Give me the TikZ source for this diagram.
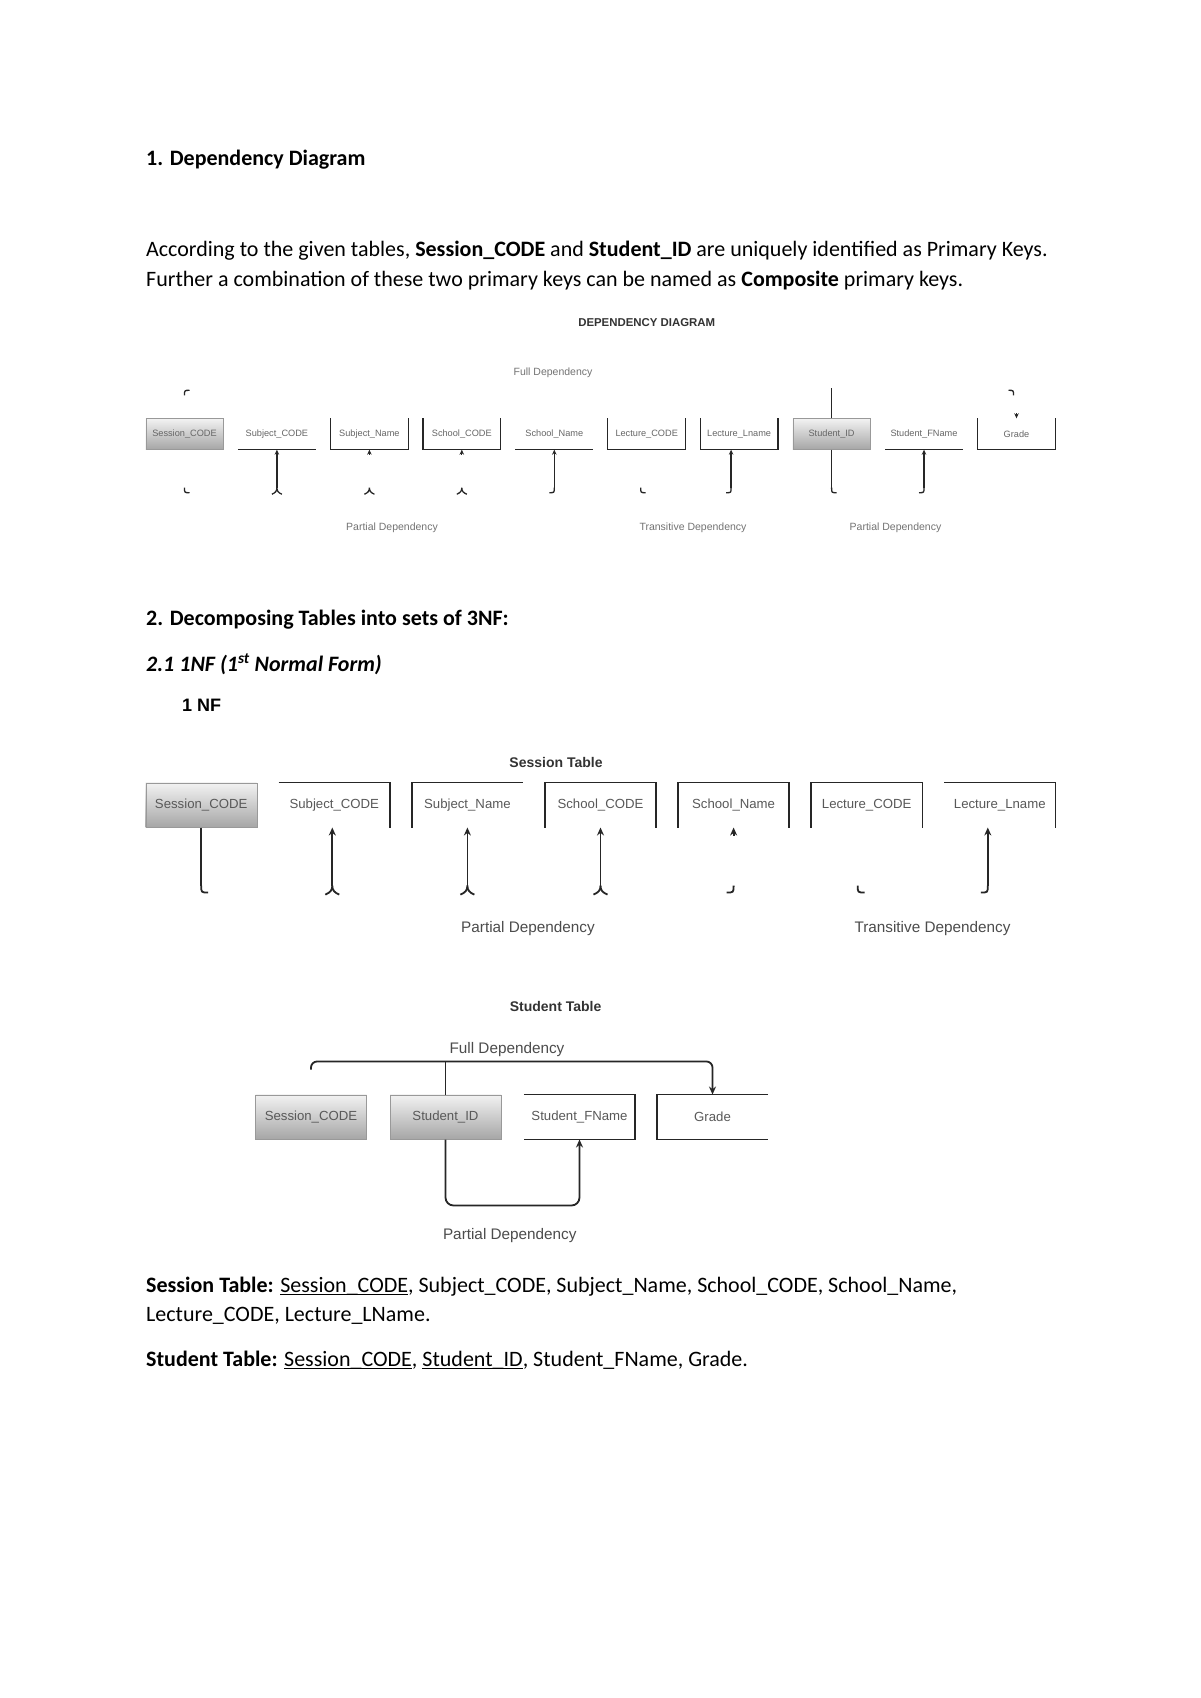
\documentclass[tikz,border=0pt]{standalone}
\usepackage{fontspec}
\setmainfont{Carlito}
\newfontfamily\diafont{Liberation Sans}
\usetikzlibrary{arrows.meta,positioning,calc}
\newcommand\keyul[1]{\underline{\smash{#1}}}

\tikzset{
  body/.style={anchor=west,inner sep=0pt,font=\fontsize{22}{26}\selectfont},
  % first diagram
  key1/.style={draw=black!40,top color=black!5,bottom color=black!35,minimum width=77.5pt,minimum height=31pt,inner sep=0pt,font=\diafont\fontsize{9.2}{10}\selectfont,text=black!60},
  att1/.style={minimum width=77.5pt,minimum height=31pt,inner sep=0pt,font=\diafont\fontsize{9.2}{10}\selectfont,text=black!60},
  lab1/.style={inner sep=0pt,font=\diafont\fontsize{10.5}{12}\selectfont,text=black!55},
  ln1/.style={line width=1.3pt,black!85},
  arr1/.style={ln1,-{Stealth[length=5pt,width=4.5pt]}},
  % session and student tables
  key2/.style={draw=black!40,top color=black!5,bottom color=black!35,minimum width=111pt,minimum height=44.6pt,inner sep=0pt,font=\diafont\fontsize{13.2}{15}\selectfont,text=black!65},
  att2/.style={minimum width=111pt,minimum height=44.6pt,inner sep=0pt,font=\diafont\fontsize{13.2}{15}\selectfont,text=black!65},
  lab2/.style={inner sep=0pt,font=\diafont\fontsize{15.3}{17}\selectfont,text=black!70},
  ln2/.style={line width=1.8pt,black!85},
  arr2/.style={ln2,-{Stealth[length=8pt,width=7pt]}},
  ttl/.style={inner sep=0pt,font=\diafont\bfseries\fontsize{14}{16}\selectfont,text=black!80},
  % loose ends of connectors
  fork/.pic={\draw (-5,1.5) .. controls (-1.5,0) and (0,-1.5) .. (0,-5) (5,1.5) .. controls (1.5,0) and (0,-1.5) .. (0,-5);},
  turnR/.pic={\draw (0,-5) .. controls (0,0) .. (5,0);},
  turnL/.pic={\draw (0,-5) .. controls (0,0) .. (-5,0);},
  capR/.pic={\draw (0,5) .. controls (0,0) .. (5,0);},
  capL/.pic={\draw (-5,0) .. controls (0,0) .. (0,5);},
}

\begin{document}
\begin{tikzpicture}[x=1pt,y=-1pt]
\useasboundingbox (0,0) rectangle (1200,1698);
\fill[white] (0,0) rectangle (1200,1698);

% section 1 text
\node[body,font=\bfseries\fontsize{22}{26}\selectfont] (h1) at (146,159.3) {1. Dependency Diagram};
\node[body] (p1) at (146,250.4) {According to the given tables, \textbf{Session\_CODE} and \textbf{Student\_ID} are uniquely identified as Primary Keys.};
\node[body] (p2) at (146,280.8) {Further a combination of these two primary keys can be named as \textbf{Composite} primary keys.};

% dependency diagram
\node[inner sep=0pt,font=\diafont\bfseries\fontsize{11.4}{13}\selectfont,text=black!80] (dt) at (646.7,322.7) {DEPENDENCY DIAGRAM};
\node[lab1] (fd1) at (553,372.7) {Full Dependency};

\node[key1] (s1) at (184.5,434) {Session\_CODE};
\node[att1] (s2) at (276.9,434) {Subject\_CODE};
\node[att1] (s3) at (369.4,434) {Subject\_Name};
\node[att1] (s4) at (461.8,434) {School\_CODE};
\node[att1] (s5) at (554.3,434) {School\_Name};
\node[att1] (s6) at (646.7,434) {Lecture\_CODE};
\node[att1] (s7) at (739.1,434) {Lecture\_Lname};
\node[key1] (s8) at (831.6,434) {Student\_ID};
\node[att1] (s9) at (924,434) {Student\_FName};
\node[att1] (s10) at (1016.5,434) {Grade};

\draw[ln1] (s2.south west) -- (s2.south east);
\draw[ln1] (s3.north west) -- (s3.south west) -- (s3.south east) -- (s3.north east);
\draw[ln1] (s4.north west) -- (s4.south west) -- (s4.south east) -- (s4.north east);
\draw[ln1] (s5.south west) -- (s5.south east);
\draw[ln1] (s6.north west) -- (s6.south west) -- (s6.south east) -- (s6.north east);
\draw[ln1] (s7.north west) -- (s7.south west) -- (s7.south east) -- (s7.north east);
\draw[ln1] (s9.south west) -- (s9.south east);
\draw[ln1] (s10.north west) -- (s10.south west) -- (s10.south east) -- (s10.north east);

\pic[ln1] at ($(s1.north)+(0,-28)$) {capR};
\pic[ln1] at ($(s1.south)+(0,43)$) {turnR};
\draw[arr1] ($(s2.south)+(0,38)$) -- (s2.south);
\pic[ln1] at ($(s2.south)+(0,43)$) {fork};
\draw[arr1] ($(s3.south)+(0,5)$) -- (s3.south);
\pic[ln1] at ($(s3.south)+(0,43)$) {fork};
\draw[arr1] ($(s4.south)+(0,5)$) -- (s4.south);
\pic[ln1] at ($(s4.south)+(0,43)$) {fork};
\draw[arr1] ($(s5.south)+(0,38)$) -- (s5.south);
\pic[ln1] at ($(s5.south)+(0,43)$) {turnL};
\pic[ln1] at ($(s6.south)+(-6,43)$) {turnR};
\draw[arr1] ($(s7.south)+(-8,38)$) -- ($(s7.south)+(-8,0)$);
\pic[ln1] at ($(s7.south)+(-8,43)$) {turnL};
\draw[ln1] (s8.north) -- ($(s8.north)+(0,-30)$);
\draw[ln1] (s8.south) -- ($(s8.south)+(0,38)$);
\pic[ln1] at ($(s8.south)+(0,43)$) {turnR};
\draw[arr1] ($(s9.south)+(0,38)$) -- (s9.south);
\pic[ln1] at ($(s9.south)+(0,43)$) {turnL};
\draw[arr1] ($(s10.north)+(0,-5)$) -- (s10.north);
\pic[ln1] at ($(s10.north)+(-3,-28)$) {capL};

\node[lab1] (pd1) at (392,528) {Partial Dependency};
\node[lab1] (td1) at (693,527.7) {Transitive Dependency};
\node[lab1] (pd2) at (895.5,527.7) {Partial Dependency};

% section 2 text
\node[body,font=\bfseries\fontsize{22}{26}\selectfont] (h2) at (146,620) {2. Decomposing Tables into sets of 3NF:};
\node[body,font=\bfseries\itshape\fontsize{22}{26}\selectfont] (h21) at (146,664.5) {2.1 1NF (1\textsuperscript{st} Normal Form)};
\node[body,font=\diafont\bfseries\fontsize{18}{20}\selectfont] (nf) at (182,705.7) {1 NF};

% session table
\node[ttl] (sest) at (556,762.7) {Session Table};
\node[key2] (a1) at (201.2,805) {Session\_CODE};
\node[att2] (a2) at (334.3,805) {Subject\_CODE};
\node[att2] (a3) at (467.4,805) {Subject\_Name};
\node[att2] (a4) at (600.5,805) {School\_CODE};
\node[att2] (a5) at (733.6,805) {School\_Name};
\node[att2] (a6) at (866.7,805) {Lecture\_CODE};
\node[att2] (a7) at (999.8,805) {Lecture\_Lname};

\draw[ln2] (a2.north west) -- (a2.north east) -- (a2.south east);
\draw[ln2] (a3.south west) -- (a3.north west) -- (a3.north east);
\draw[ln2] (a4.south west) -- (a4.north west) -- (a4.north east) -- (a4.south east);
\draw[ln2] (a5.south west) -- (a5.north west) -- (a5.north east) -- (a5.south east);
\draw[ln2] (a6.south west) -- (a6.north west) -- (a6.north east) -- (a6.south east);
\draw[ln2] (a7.north west) -- (a7.north east) -- (a7.south east);

\draw[ln2] (a1.south) -- ($(a1.south)+(0,58)$);
\pic[ln2,scale=1.4] at ($(a1.south)+(0,65)$) {turnR};
\draw[arr2] ($(a2.south)+(-2,58)$) -- ($(a2.south)+(-2,0)$);
\pic[ln2,scale=1.4] at ($(a2.south)+(-2,65)$) {fork};
\draw[arr2] ($(a3.south)+(0,58)$) -- (a3.south);
\pic[ln2,scale=1.4] at ($(a3.south)+(0,65)$) {fork};
\draw[arr2] ($(a4.south)+(0,58)$) -- (a4.south);
\pic[ln2,scale=1.4] at ($(a4.south)+(0,65)$) {fork};
\draw[arr2] ($(a5.south)+(0,8)$) -- (a5.south);
\pic[ln2,scale=1.4] at ($(a5.south)+(0,65)$) {turnL};
\pic[ln2,scale=1.4] at ($(a6.south)+(-9,65)$) {turnR};
\draw[arr2] ($(a7.south)+(-12,58)$) -- ($(a7.south)+(-12,0)$);
\pic[ln2,scale=1.4] at ($(a7.south)+(-12,65)$) {turnL};

\node[lab2] (pd3) at (528,929) {Partial Dependency};
\node[lab2] (td2) at (932.5,929) {Transitive Dependency};

% student table
\node[ttl] (stt) at (555.6,1006) {Student Table};
\node[key2] (t1) at (311,1117) {Session\_CODE};
\node[key2] (t2) at (445.5,1117) {Student\_ID};
\node[att2] (t3) at (579.5,1117) {Student\_FName};
\node[att2] (t4) at (712.5,1117) {Grade};

\draw[ln2] (t3.north west) -- (t3.north east) -- (t3.south east) -- (t3.south west);
\draw[ln2] (t4.north east) -- (t4.north west) -- (t4.south west) -- (t4.south east);

\draw[arr2,rounded corners=6pt] ($(t1.north)+(0,-25)$) -- ($(t1.north)+(0,-33)$) -| (t4.north);
\draw[ln2] (t2.north) -- ($(t2.north)+(0,-33)$);
\draw[arr2,rounded corners=8pt] (t2.south) -- ($(t2.south)+(0,66)$) -| (t3.south);

\node[lab2] (fd2) at (507,1050) {Full Dependency};
\node[lab2] (pd4) at (509.8,1236) {Partial Dependency};

% table summaries
\node[body] (q1) at (146,1286.7) {\textbf{Session Table:} \keyul{Session\_CODE}, Subject\_CODE, Subject\_Name, School\_CODE, School\_Name,};
\node[body] (q2) at (146,1316) {Lecture\_CODE, Lecture\_LName.};
\node[body] (q3) at (146,1360.4) {\textbf{Student Table:} \keyul{Session\_CODE}, \keyul{Student\_ID}, Student\_FName, Grade.};
\end{tikzpicture}
\end{document}
